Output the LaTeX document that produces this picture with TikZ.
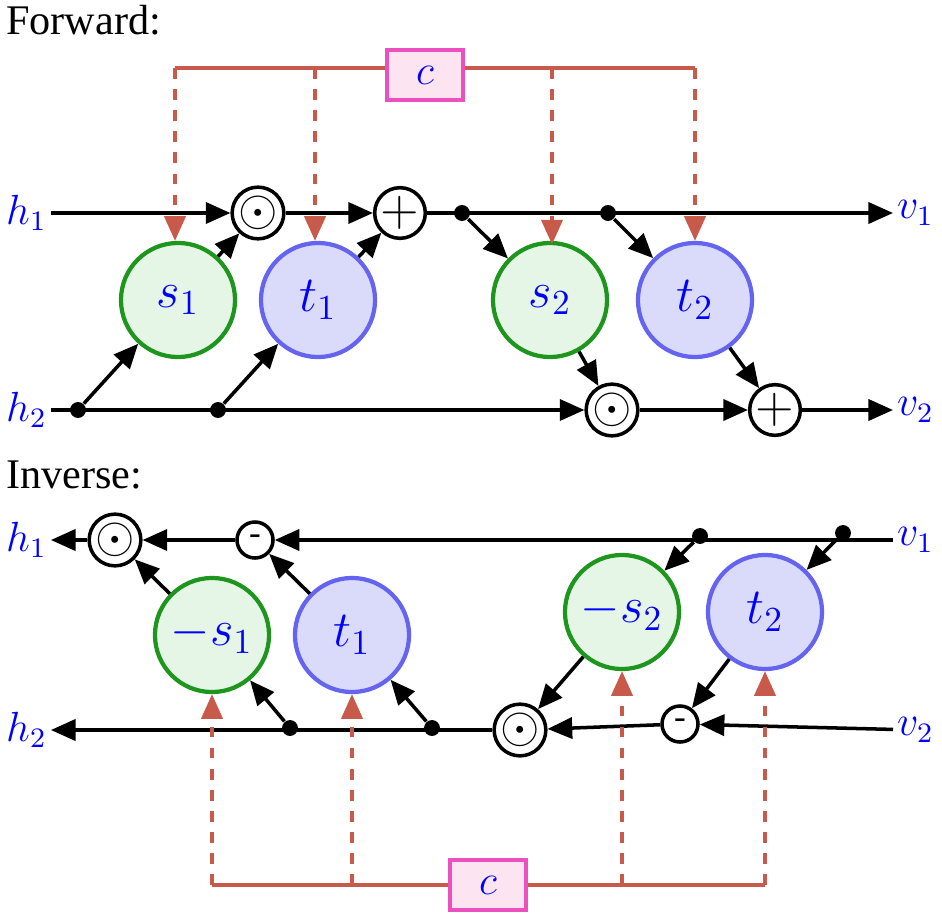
\documentclass[tikz,border=0pt]{standalone}
\usepackage{fontspec}
\setmainfont{Liberation Serif}
\usetikzlibrary{arrows.meta}
\definecolor{cred}{RGB}{200,90,75}
\definecolor{sgreen}{RGB}{30,150,30}
\definecolor{sfill}{RGB}{230,246,230}
\definecolor{tblue}{RGB}{100,100,240}
\definecolor{tfill}{RGB}{218,218,250}
\definecolor{cpink}{RGB}{235,80,190}
\definecolor{cfill}{RGB}{252,228,240}
\tikzset{
  sfun/.style={circle, draw=sgreen, fill=sfill, line width=1.2pt, minimum size=1.14cm, inner sep=0pt, text=blue, font=\Large},
  tfun/.style={circle, draw=tblue, fill=tfill, line width=1.2pt, minimum size=1.14cm, inner sep=0pt, text=blue, font=\Large},
  op/.style={circle, draw, line width=1pt, minimum size=0.36cm, inner sep=0pt, fill=white},
  cbox/.style={draw=cpink, fill=cfill, line width=1pt, minimum width=0.76cm, minimum height=0.5cm, text=blue, font=\large},
  lab/.style={text=blue, font=\large, inner sep=1pt},
  dot/.style={circle, fill, inner sep=1.6pt},
  flow/.style={-{Triangle[length=7pt,width=6pt]}, line width=1pt},
  cond/.style={cred, dashed, line width=1pt, -{Triangle[length=7pt,width=6pt]}},
  cline/.style={cred, line width=1pt}
}
\begin{document}
\begin{tikzpicture}[x=0.01cm, y=-0.01cm]
  \useasboundingbox (0,0) rectangle (942,924);

  % forward pass
  \node[anchor=west, font=\large, inner sep=1pt] (fwd) at (2,20) {Forward:};
  \node[cbox] (c1) at (425,75) {$c$};
  \node[lab, anchor=west] (h1) at (2,213) {$h_1$};
  \node[lab, anchor=west] (v1) at (893,213) {$v_1$};
  \node[lab, anchor=west] (h2) at (2,410) {$h_2$};
  \node[lab, anchor=west] (v2) at (893,410) {$v_2$};
  \node[sfun] (s1) at (178,300) {$s_1$};
  \node[tfun] (t1) at (318,300) {$t_1$};
  \node[sfun] (s2) at (550,300) {$s_2$};
  \node[tfun] (t2) at (695,300) {$t_2$};
  \node[op, font=\Large] (m1) at (258,213) {$\odot$};
  \node[op] (a1) at (400,213) {\Large$+$};
  \node[op, font=\Large] (m2) at (612,410) {$\odot$};
  \node[op] (a2) at (775,410) {\Large$+$};
  \node[dot] (d1) at (78,410) {};
  \node[dot] (d2) at (218,410) {};
  \node[dot] (d3) at (462,213) {};
  \node[dot] (d4) at (608,213) {};
  \coordinate (cl) at (175,68);
  \coordinate (cr) at (695,68);

  \draw[flow] (h1) -- (m1);
  \draw[flow] (m1) -- (a1);
  \draw[flow] (a1) -- (v1);
  \draw[flow] (h2) -- (m2);
  \draw[flow] (m2) -- (a2);
  \draw[flow] (a2) -- (v2);
  \draw[flow] (d1) -- (s1);
  \draw[flow] (s1) -- (m1);
  \draw[flow] (d2) -- (t1);
  \draw[flow] (t1) -- (a1);
  \draw[flow] (d3) -- (s2);
  \draw[flow] (s2) -- (m2);
  \draw[flow] (d4) -- (t2);
  \draw[flow] (t2) -- (a2);

  \draw[cline] (c1.west |- cl) -- (cl);
  \draw[cline] (c1.east |- cr) -- (cr);
  \draw[cond] (cl) -- (s1.north -| cl);
  \draw[cond] (315,68) -- (t1.north -| 315,0);
  \draw[cond] (552,68) -- (s2.70 -| 552,0);
  \draw[cond] (cr) -- (t2.north);

  % inverse pass
  \node[anchor=west, font=\large, inner sep=1pt] (inv) at (2,475) {Inverse:};
  \node[cbox] (c2) at (488,885) {$c$};
  \node[lab, anchor=west] (ih1) at (2,540) {$h_1$};
  \node[lab, anchor=west] (iv1) at (893,540) {$v_1$};
  \node[lab, anchor=west] (ih2) at (2,730) {$h_2$};
  \node[lab, anchor=west] (iv2) at (893,730) {$v_2$};
  \node[sfun] (is1) at (212,635) {$-s_1$};
  \node[tfun] (it1) at (352,635) {$t_1$};
  \node[sfun] (is2) at (622,612) {$-s_2$};
  \node[tfun] (it2) at (765,612) {$t_2$};
  \node[op, font=\Large] (im1) at (115,540) {$\odot$};
  \node[op] (ib1) at (255,540) {-};
  \node[op, font=\Large] (im2) at (520,730) {$\odot$};
  \node[op] (ib2) at (680,724) {-};
  \node[dot] (e1) at (700,536) {};
  \node[dot] (e2) at (843,533) {};
  \node[dot] (e3) at (290,728) {};
  \node[dot] (e4) at (432,728) {};

  \draw[flow] (iv1) -- (ib1);
  \draw[flow] (ib1) -- (im1);
  \draw[flow] (im1) -- (ih1);
  \draw[flow] (iv2) -- (ib2);
  \draw[flow] (ib2) -- (im2);
  \draw[flow] (im2) -- (ih2);
  \draw[flow] (is1) -- (im1);
  \draw[flow] (it1) -- (ib1);
  \draw[flow] (e1) -- (is2);
  \draw[flow] (e2) -- (it2);
  \draw[flow] (is2) -- (im2);
  \draw[flow] (it2) -- (ib2);
  \draw[flow] (e3) -- (is1);
  \draw[flow] (e4) -- (it1);

  \draw[cline] (c2.west) -- (212,885) coordinate (il);
  \draw[cline] (c2.east) -- (765,885) coordinate (ir);
  \draw[cond] (il) -- (is1.south);
  \draw[cond] (352,885) -- (it1.south);
  \draw[cond] (622,885) -- (is2.south);
  \draw[cond] (ir) -- (it2.south);
\end{tikzpicture}
\end{document}
